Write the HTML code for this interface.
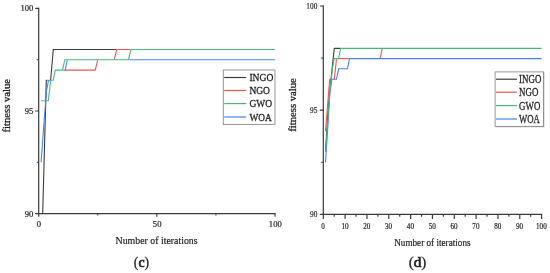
<!DOCTYPE html>
<html><head><meta charset="utf-8"><title>fitness curves</title>
<style>
html,body{margin:0;padding:0;background:#fff;}
body{width:550px;height:273px;overflow:hidden;}
svg{display:block;}
text{font-family:"Liberation Serif","Times New Roman",serif;fill:#222;}
text{stroke:#222;stroke-width:0.2px;}
text.b{stroke-width:0.3px;}
</style></head><body>
<svg width="550" height="273" viewBox="0 0 550 273">
<rect width="550" height="273" fill="#fff"/>

<polyline fill="none" stroke="#3c3c3c" stroke-width="1.1" stroke-linejoin="round" points="42.7,213.6 46.3,80.3 47.6,80.3"/>
<polyline fill="none" stroke="#3c3c3c" stroke-width="1.1" stroke-linejoin="round" points="50.6,80.3 53.3,49.55 116.2,49.55"/>
<polyline fill="none" stroke="#f25252" stroke-width="1.1" stroke-linejoin="round" points="65.4,70.15 95.3,70.15 97.6,60.25"/>
<polyline fill="none" stroke="#f25252" stroke-width="1.1" stroke-linejoin="round" points="114.3,59.45 116.7,49.55 130.2,49.55"/>
<polyline fill="none" stroke="#4285ee" stroke-width="1.1" stroke-linejoin="round" points="41.1,162.2 44.2,120 46.5,91 48.5,80.3 50.9,80.3"/>
<polyline fill="none" stroke="#4285ee" stroke-width="1.1" stroke-linejoin="round" points="63.2,70.15 65.2,70.15 67.3,60.05"/>
<polyline fill="none" stroke="#4285ee" stroke-width="1.1" stroke-linejoin="round" points="129.3,59.75 275,59.75"/>
<polyline fill="none" stroke="#48b878" stroke-width="1.1" stroke-linejoin="round" points="41.1,100.7 48.3,100.7 50.7,80.3 53.2,80.3 55.3,70.15 62.5,70.15 64.8,59.75 128.5,59.75 130.9,49.55 275,49.55"/>
<path d="M38.7 7.8 V216.8 M35.2 213.6 H275.6" stroke="#3a3a3a" stroke-width="1.2" fill="none"/>
<path d="M35.2 8.4 H38.7 M35.2 111 H38.7 M36.7 59.7 H38.7 M36.7 162.3 H38.7 M156.85 213.6 V216.8 M275 213.6 V216.8 M97.78 213.6 V215.4 M215.93 213.6 V215.4 " stroke="#3a3a3a" stroke-width="1.1" fill="none"/>
<text x="33.4" y="11.3" font-size="8.6" text-anchor="end">100</text>
<text x="33.4" y="113.9" font-size="8.6" text-anchor="end">95</text>
<text x="33.4" y="216.5" font-size="8.6" text-anchor="end">90</text>
<text x="39" y="227.2" font-size="8.6" text-anchor="middle">0</text>
<text x="157.15" y="227.2" font-size="8.6" text-anchor="middle">50</text>
<text x="275.3" y="227.2" font-size="8.6" text-anchor="middle">100</text>
<text x="156.6" y="243.6" font-size="10.2" text-anchor="middle" textLength="82" lengthAdjust="spacingAndGlyphs">Number of iterations</text>
<text class="b" transform="translate(9.5 105.7) rotate(-90)" font-size="10.5" text-anchor="middle" textLength="53.6" lengthAdjust="spacingAndGlyphs">fitness value</text>
<rect x="223.3" y="70" width="51.7" height="54.4" fill="#fff" stroke="#8a8a8a" stroke-width="0.9"/>
<path d="M224.2 77.5 H246.2" stroke="#3c3c3c" stroke-width="1.2"/>
<text class="b" x="249.4" y="81.2" font-size="11.2" textLength="23.9" lengthAdjust="spacingAndGlyphs">INGO</text>
<path d="M224.2 90.5 H246.2" stroke="#f25252" stroke-width="1.2"/>
<text class="b" x="249.4" y="94.2" font-size="11.2" textLength="20.6" lengthAdjust="spacingAndGlyphs">NGO</text>
<path d="M224.2 103.6 H246.2" stroke="#48b878" stroke-width="1.2"/>
<text class="b" x="249.4" y="107.3" font-size="11.2" textLength="22.6" lengthAdjust="spacingAndGlyphs">GWO</text>
<path d="M224.2 117 H246.2" stroke="#4285ee" stroke-width="1.2"/>
<text class="b" x="249.4" y="120.7" font-size="11.2" textLength="22.2" lengthAdjust="spacingAndGlyphs">WOA</text>
<text x="141.5" y="266.7" font-size="15.2" text-anchor="middle" textLength="15.4" lengthAdjust="spacingAndGlyphs" style="stroke-width:0.25px">(<tspan style="stroke-width:0.7px">c</tspan>)</text>
<polyline fill="none" stroke="#3c3c3c" stroke-width="1.1" stroke-linejoin="round" points="325.5,152 327.6,118 329.8,91 332.03,69.5 334.3,48.35 340.2,48.35"/>
<polyline fill="none" stroke="#f25252" stroke-width="1.1" stroke-linejoin="round" points="325.5,131.2 327.67,104 329.7,79.2 331.6,79.2"/>
<polyline fill="none" stroke="#f25252" stroke-width="1.1" stroke-linejoin="round" points="334.3,79.2 336.45,59.2"/>
<polyline fill="none" stroke="#f25252" stroke-width="1.1" stroke-linejoin="round" points="338.7,58.6 349,58.6"/>
<polyline fill="none" stroke="#f25252" stroke-width="1.1" stroke-linejoin="round" points="380.1,58.6 382.3,48.35"/>
<polyline fill="none" stroke="#4285ee" stroke-width="1.1" stroke-linejoin="round" points="325.5,162.4 327.7,129 329.85,93 331.9,79.2 336.5,79.2 338.7,68.8 347.4,68.8 349.6,58.6 541.6,58.6"/>
<polyline fill="none" stroke="#48b878" stroke-width="1.1" stroke-linejoin="round" points="325.5,152 327.67,124 329.8,92 332.45,68.5 334.1,58.6 338.5,58.6 340.6,48.35 541.6,48.35"/>
<path d="M323.3 5.4 V218.9 M319.8 214.3 H542.2" stroke="#3a3a3a" stroke-width="1.2" fill="none"/>
<path d="M319.8 6 H323.3 M319.8 110.15 H323.3 M321.3 58.08 H323.3 M321.3 162.23 H323.3 M345.13 214.3 V219 M366.96 214.3 V219 M388.79 214.3 V219 M410.62 214.3 V219 M432.45 214.3 V219 M454.28 214.3 V219 M476.11 214.3 V219 M497.94 214.3 V219 M519.77 214.3 V219 M541.6 214.3 V219 M334.22 214.3 V216.8 M356.05 214.3 V216.8 M377.88 214.3 V216.8 M399.71 214.3 V216.8 M421.54 214.3 V216.8 M443.37 214.3 V216.8 M465.2 214.3 V216.8 M487.03 214.3 V216.8 M508.86 214.3 V216.8 M530.69 214.3 V216.8 " stroke="#3a3a3a" stroke-width="1.2" fill="none"/>
<text x="317.3" y="9" font-size="9" text-anchor="end" textLength="10.95" lengthAdjust="spacingAndGlyphs">100</text>
<text x="317.3" y="113.15" font-size="9" text-anchor="end" textLength="7.3" lengthAdjust="spacingAndGlyphs">95</text>
<text x="317.3" y="217.3" font-size="9" text-anchor="end" textLength="7.3" lengthAdjust="spacingAndGlyphs">90</text>
<text x="323.1" y="229.1" font-size="8.8" text-anchor="middle" textLength="3.55" lengthAdjust="spacingAndGlyphs">0</text>
<text x="344.93" y="229.1" font-size="8.8" text-anchor="middle" textLength="7.1" lengthAdjust="spacingAndGlyphs">10</text>
<text x="366.76" y="229.1" font-size="8.8" text-anchor="middle" textLength="7.1" lengthAdjust="spacingAndGlyphs">20</text>
<text x="388.59" y="229.1" font-size="8.8" text-anchor="middle" textLength="7.1" lengthAdjust="spacingAndGlyphs">30</text>
<text x="410.42" y="229.1" font-size="8.8" text-anchor="middle" textLength="7.1" lengthAdjust="spacingAndGlyphs">40</text>
<text x="432.25" y="229.1" font-size="8.8" text-anchor="middle" textLength="7.1" lengthAdjust="spacingAndGlyphs">50</text>
<text x="454.08" y="229.1" font-size="8.8" text-anchor="middle" textLength="7.1" lengthAdjust="spacingAndGlyphs">60</text>
<text x="475.91" y="229.1" font-size="8.8" text-anchor="middle" textLength="7.1" lengthAdjust="spacingAndGlyphs">70</text>
<text x="497.74" y="229.1" font-size="8.8" text-anchor="middle" textLength="7.1" lengthAdjust="spacingAndGlyphs">80</text>
<text x="519.57" y="229.1" font-size="8.8" text-anchor="middle" textLength="7.1" lengthAdjust="spacingAndGlyphs">90</text>
<text x="541.4" y="229.1" font-size="8.8" text-anchor="middle" textLength="10.65" lengthAdjust="spacingAndGlyphs">100</text>
<text x="432.4" y="245.7" font-size="10.4" text-anchor="middle" textLength="76.4" lengthAdjust="spacingAndGlyphs">Number of iterations</text>
<text class="b" transform="translate(296.4 105) scale(0.93 1) rotate(-90)" font-size="10.5" text-anchor="middle" textLength="53.4" lengthAdjust="spacingAndGlyphs">fitness value</text>
<rect x="495.9" y="72.7" width="48.4" height="54.5" fill="#a6a6a6"/>
<rect x="495.1" y="71.9" width="48.4" height="54.5" fill="#fff" stroke="#8a8a8a" stroke-width="0.9"/>
<path d="M496 79.2 H517" stroke="#3c3c3c" stroke-width="1.2"/>
<text class="b" x="519.1" y="83.2" font-size="12" textLength="22.2" lengthAdjust="spacingAndGlyphs">INGO</text>
<path d="M496 92.2 H517" stroke="#f25252" stroke-width="1.2"/>
<text class="b" x="519.1" y="96.2" font-size="12" textLength="19.2" lengthAdjust="spacingAndGlyphs">NGO</text>
<path d="M496 105.6 H517" stroke="#48b878" stroke-width="1.2"/>
<text class="b" x="519.1" y="109.6" font-size="12" textLength="21.2" lengthAdjust="spacingAndGlyphs">GWO</text>
<path d="M496 119 H517" stroke="#4285ee" stroke-width="1.2"/>
<text class="b" x="519.1" y="123" font-size="12" textLength="20.8" lengthAdjust="spacingAndGlyphs">WOA</text>
<text x="417.5" y="266.7" font-size="15.2" text-anchor="middle" textLength="17.7" lengthAdjust="spacingAndGlyphs" style="stroke-width:0.25px">(<tspan style="stroke-width:0.7px">d</tspan>)</text>
</svg></body></html>
